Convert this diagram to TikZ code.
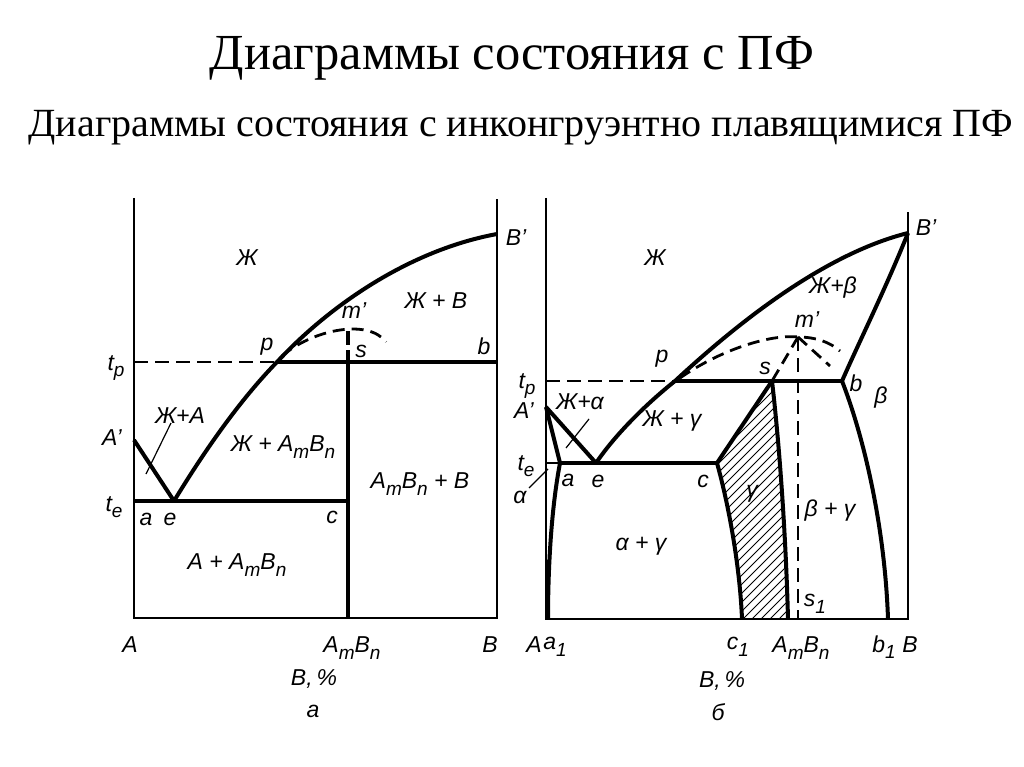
\documentclass[tikz,border=0pt]{standalone}
\usepackage{fontspec}
\setmainfont{Liberation Serif}
\newfontfamily\lab{Liberation Sans}
\newcommand\sbx[1]{\raisebox{-0.28em}{\fontsize{19}{19}\selectfont #1}}
\newcommand\AmBnx{A\sbx{m}B\sbx{n}}
\begin{document}
\begin{tikzpicture}[x=1pt,y=-1pt,
  lbl/.style={font=\lab\itshape\fontsize{23}{25}\selectfont, inner sep=0pt},
  ttl/.style={font=\fontsize{50.5}{54}\selectfont, inner sep=0pt},
  sub/.style={font=\fontsize{40}{44}\selectfont, inner sep=0pt},
  thinln/.style={line width=1.8pt},
  thickln/.style={line width=4pt},
  dashln/.style={line width=1.8pt, dash pattern=on 14pt off 7pt},
  dasharc/.style={line width=2.8pt, dash pattern=on 12pt off 7pt}]
\useasboundingbox[fill=white] (0,0) rectangle (1024,767);
\node[ttl] (t1) at (512,58) {Диаграммы состояния с ПФ};
\node[sub] (t2) at (521,128) {Диаграммы состояния с инконгруэнтно плавящимися ПФ};

% ---------- left diagram
\coordinate (LA) at (134,618);
\coordinate (LB) at (497,618);
\coordinate (LAt) at (134,198);
\coordinate (LBt) at (497,199);
\coordinate (LBp) at (497,234);
\coordinate (LAp) at (134,440);
\coordinate (Le) at (174,501);
\coordinate (Lp) at (277,362);
\coordinate (Ltp) at (134,362);
\coordinate (Ltb) at (497,362);
\coordinate (Lte) at (134,501);
\coordinate (Lc) at (348,501);
\coordinate (Lm) at (348,331);
\coordinate (Ls) at (348,350);
\coordinate (LAB) at (348,618);

\draw[thinln] (LAt) -- (LA) -- (LB) -- (LBt);
\draw[dashln] (Ltp) -- (Lp);
\draw[thickln] (Lp) -- (Ltb);
\draw[thickln] (Lte) -- (Lc);
\draw[thickln] (Ls) -- (LAB);
\draw[thickln] (Lm) -- ++(0,14);
\draw[thickln] (LAp) -- (Le);
\draw[thickln] (Le) .. controls (205,450) and (240,400) .. (Lp)
   .. controls (330,305) and (410,250) .. (LBp);
\draw[dasharc] (282,356) .. controls (312,330) and (368,318) .. (386,342);
\coordinate (Lq1) at (146,474);
\coordinate (Lq2) at (171,423);
\draw[line width=1.2pt] (Lq1) -- (Lq2);

\node[lbl] (l0) at (516,238) {B’};
\node[lbl] (l1) at (247,258) {Ж};
\node[lbl] (l2) at (436,301) {Ж + B};
\node[lbl] (l3) at (354,311) {m’};
\node[lbl] (l4) at (267,347) {p};
\node[lbl] (l5) at (361,351) {s};
\node[lbl] (l6) at (484,346) {b};
\node[lbl] (l7) at (116,368) {t\sbx{p}};
\node[lbl] (l8) at (180,416) {Ж+A};
\node[lbl] (l9) at (112,438) {A’};
\node[lbl] (l10) at (283,447) {Ж + \AmBnx};
\node[lbl] (l11) at (420,484) {\AmBnx{} + B};
\node[lbl] (l12) at (114,507) {t\sbx{e}};
\node[lbl] (l13) at (146,519) {a};
\node[lbl] (l14) at (170,519) {e};
\node[lbl] (l15) at (332,517) {c};
\node[lbl] (l16) at (237,565) {A + \AmBnx};
\node[lbl] (l17) at (130,645) {A};
\node[lbl] (l18) at (352,648) {\AmBnx};
\node[lbl] (l19) at (490,645) {B};
\node[lbl] (l20) at (314,679) {B,\,\%};
\node[lbl] (l21) at (313,711) {a};

% ---------- right diagram
\coordinate (RA) at (546,619);
\coordinate (RB) at (908,619);
\coordinate (RAt) at (546,198);
\coordinate (RBt) at (908,212);
\coordinate (RBp) at (908,233);
\coordinate (RAp) at (546,407);
\coordinate (Ra) at (560,463);
\coordinate (Re) at (596,463);
\coordinate (Rc) at (717,463);
\coordinate (Rp) at (675,381);
\coordinate (Rs) at (772,381);
\coordinate (Rb) at (842,381);
\coordinate (Rtp) at (546,381);
\coordinate (Rte) at (546,463);
\coordinate (Rm) at (798,337);
\coordinate (Rs1) at (798,619);
\coordinate (Ra1) at (548,619);
\coordinate (Rc1) at (742,619);
\coordinate (RAB) at (788,619);
\coordinate (Rb1) at (888,619);

% hatching
\begin{scope}
\clip (Rc) -- (Rs) .. controls (780,450) and (786,540) .. (RAB) -- (Rc1)
   .. controls (740,570) and (730,510) .. (Rc) -- cycle;
\foreach \i in {480,489,...,800} \draw[line width=1pt] (\i,630) -- ++(270,-270);
\end{scope}

\draw[thinln] (RAt) -- (RA) -- (RB) -- (RBt);
\draw[thinln] (Rte) -- (Ra);
\draw[dashln] (Rtp) -- (Rp);
\draw[thickln] (Rp) -- (Rb);
\draw[thickln] (Ra) -- (Rc);
\draw[thickln] (RAp) -- (Re);
\draw[thickln] (RAp) -- (Ra);
\draw[thickln] (Ra) .. controls (551,510) and (548,570) .. (Ra1);
\draw[line width=3pt] (547,560) -- (547,619);
\draw[thickln] (Re) .. controls (615,435) and (645,405) .. (Rp)
   .. controls (730,330) and (820,255) .. (RBp);
\draw[thickln] (RBp) .. controls (885,290) and (860,340) .. (Rb);
\draw[thickln] (Rb) .. controls (865,440) and (885,530) .. (Rb1);
\draw[thickln] (Rc) -- (Rs);
\draw[thickln] (Rc) .. controls (730,510) and (740,570) .. (Rc1);
\draw[thickln] (Rs) .. controls (780,450) and (786,540) .. (RAB);
\draw[dasharc] (680,378) .. controls (720,350) and (770,334) .. (Rm)
   .. controls (815,337) and (830,342) .. (840,351);
\draw[dasharc] (Rm) -- (Rs);
\draw[dasharc] (Rm) -- (830,366);
\draw[dashln] (Rm) -- (Rs1);
\coordinate (Rq1) at (566,448);
\coordinate (Rq2) at (589,419);
\draw[line width=1.2pt] (Rq1) -- (Rq2);
\coordinate (Rr1) at (529,488);
\coordinate (Rr2) at (548,469);
\draw[line width=1.2pt] (Rr1) -- (Rr2);

\node[lbl] (r0) at (926,228) {B’};
\node[lbl] (r1) at (655,258) {Ж};
\node[lbl] (r2) at (833,288) {Ж+β};
\node[lbl] (r3) at (807,320) {m’};
\node[lbl] (r4) at (662,359) {p};
\node[lbl] (r5) at (765,368) {s};
\node[lbl] (r6) at (856,383) {b};
\node[lbl] (r7) at (881,398) {β};
\node[lbl] (r8) at (527,386) {t\sbx{p}};
\node[lbl] (r9) at (580,402) {Ж+α};
\node[lbl] (r10) at (524,411) {A’};
\node[lbl] (r11) at (672,421) {Ж + γ};
\node[lbl] (r12) at (526,466) {t\sbx{e}};
\node[lbl] (r13) at (520,497) {α};
\node[lbl] (r14) at (568,480) {a};
\node[lbl] (r15) at (598,481) {e};
\node[lbl] (r16) at (703,481) {c};
\node[lbl] (r17) at (752,494) {γ};
\node[lbl] (r18) at (830,511) {β + γ};
\node[lbl] (r19) at (641,546) {α + γ};
\node[lbl] (r20) at (815,604) {s\sbx{1}};
\node[lbl] (r21) at (534,645) {A};
\node[lbl] (r22) at (555,647) {a\sbx{1}};
\node[lbl] (r23) at (738,647) {c\sbx{1}};
\node[lbl] (r24) at (801,648) {\AmBnx};
\node[lbl] (r25) at (884,647) {b\sbx{1}};
\node[lbl] (r26) at (910,645) {B};
\node[lbl] (r27) at (722,681) {B,\,\%};
\node[lbl] (r28) at (718,712) {б};
\end{tikzpicture}
\end{document}
